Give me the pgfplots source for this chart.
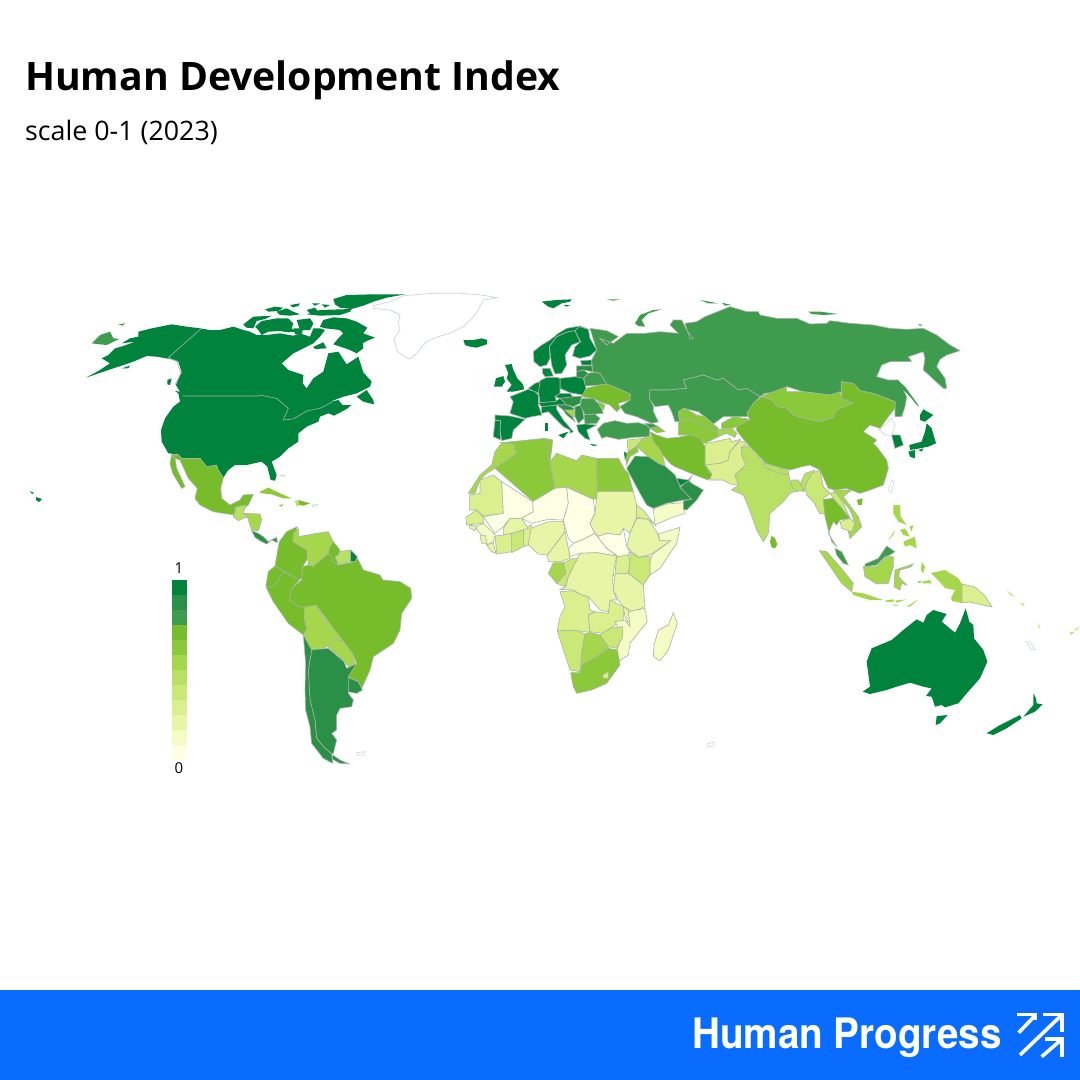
\documentclass[border=0pt]{standalone}
\usepackage{fontspec}
\setmainfont{Open Sans}
\newfontfamily\logofont{TeX Gyre Heros}
\usepackage{pgfplots}
\pgfplotsset{compat=1.18}
\definecolor{c1}{HTML}{00843D}\definecolor{c2}{HTML}{2A8F47}\definecolor{c3}{HTML}{3F9B4D}
\definecolor{c4}{HTML}{76BC2B}\definecolor{c5}{HTML}{8CC93A}\definecolor{c6}{HTML}{A5D64C}
\definecolor{c7}{HTML}{B8E065}\definecolor{c8}{HTML}{CAE876}\definecolor{c9}{HTML}{DBEF8E}
\definecolor{c10}{HTML}{E8F5A6}\definecolor{c11}{HTML}{F5FBC5}\definecolor{c12}{HTML}{FFFFE5}
\definecolor{bd}{HTML}{A8B4A8}\definecolor{gl}{HTML}{CBD5D8}\definecolor{band}{HTML}{0A6CFF}
\pgfplotsset{
 zA/.style={x filter/.expression={80+x/3},y filter/.expression={285+y/3}},
 zB/.style={x filter/.expression={160+x/3},y filter/.expression={500+y/3}},
 zC/.style={x filter/.expression={460+x/3},y filter/.expression={290+y/3}},
 zD/.style={x filter/.expression={460+x/3},y filter/.expression={430+y/3}},
 zE/.style={x filter/.expression={590+x/3},y filter/.expression={300+y/3}},
 zF/.style={x filter/.expression={620+x/3},y filter/.expression={410+y/3}},
 zG/.style={x filter/.expression={820+x/3},y filter/.expression={590+y/3}},
 zH/.style={x filter/.expression={350+x/3},y filter/.expression={285+y/3}},
 zL/.style={x filter/.expression={680+x/3},y filter/.expression={1000+y/3}},
}
\newcommand{\poly}[3]{\addplot[fill=#1,draw=bd,line width=.6pt,#2] coordinates {#3} --cycle;}
\newcommand{\dk}[3]{\addplot[fill=#1,draw=none,#2] coordinates {#3} --cycle;}
\begin{document}
\begin{tikzpicture}
\begin{axis}[scale only axis,width=1080pt,height=1080pt,xmin=0,xmax=1080,ymin=0,ymax=1080,y dir=reverse,hide axis,clip=true]
\addplot[fill=white,draw=none] coordinates {(0,0)(1080,0)(1080,1080)(0,1080)} --cycle;
\addplot[fill=band,draw=none] coordinates {(0,990)(1080,990)(1080,1080)(0,1080)} --cycle;
% legend
\addplot[fill=c1,draw=none] coordinates {(172,580)(187,580)(187,595)(172,595)} --cycle;
\addplot[fill=c2,draw=none] coordinates {(172,595)(187,595)(187,610)(172,610)} --cycle;
\addplot[fill=c3,draw=none] coordinates {(172,610)(187,610)(187,625)(172,625)} --cycle;
\addplot[fill=c4,draw=none] coordinates {(172,625)(187,625)(187,640)(172,640)} --cycle;
\addplot[fill=c5,draw=none] coordinates {(172,640)(187,640)(187,655)(172,655)} --cycle;
\addplot[fill=c6,draw=none] coordinates {(172,655)(187,655)(187,670)(172,670)} --cycle;
\addplot[fill=c7,draw=none] coordinates {(172,670)(187,670)(187,685)(172,685)} --cycle;
\addplot[fill=c8,draw=none] coordinates {(172,685)(187,685)(187,700)(172,700)} --cycle;
\addplot[fill=c9,draw=none] coordinates {(172,700)(187,700)(187,715)(172,715)} --cycle;
\addplot[fill=c10,draw=none] coordinates {(172,715)(187,715)(187,730)(172,730)} --cycle;
\addplot[fill=c11,draw=none] coordinates {(172,730)(187,730)(187,745)(172,745)} --cycle;
\addplot[fill=c12,draw=none] coordinates {(172,745)(187,745)(187,760)(172,760)} --cycle;
% Greenland
\addplot[fill=white,draw=gl,line width=.7pt,zH] coordinates {(70,62)(120,50)(160,32)(250,25)(330,25)(395,30)(442,38)(400,45)(392,60)(385,75)(370,95)(360,105)(340,125)(320,135)(300,145)(265,155)(230,170)(215,185)(200,205)(180,222)(165,215)(150,205)(140,195)(132,160)(150,135)(145,115)(150,90)(120,75)(70,70)} --cycle;
\dk{c1}{zH}{(340,165)(370,165)(395,160)(412,165)(410,178)(380,188)(360,185)(345,180)}
% North America
\dk{c1}{zA}{(175,140)(215,130)(275,118)(320,125)(360,130)(390,135)(420,135)(460,125)(490,135)(510,140)(530,150)(560,150)(600,145)(640,152)(660,145)(690,155)(700,130)(720,130)(735,135)(720,155)(700,175)(670,190)(640,205)(605,235)(625,255)(670,270)(668,295)(680,310)(700,280)(730,260)(745,205)(775,200)(800,238)(835,215)(850,262)(875,290)(870,305)(830,325)(790,335)(745,352)(775,345)(788,360)(815,360)(800,372)(762,392)(745,385)(720,395)(715,410)(680,425)(655,445)(655,470)(625,490)(600,515)(575,530)(590,570)(585,587)(572,585)(562,545)(545,530)(500,540)(465,540)(445,555)(430,578)(415,555)(410,540)(380,545)(360,520)(305,520)(295,508)(265,505)(245,470)(243,435)(255,400)(280,365)(300,350)(295,325)(285,318)(300,320)(288,300)(300,270)(305,262)(295,230)(270,222)(230,215)(200,213)(160,230)(125,242)(100,250)(18,278)(55,258)(90,235)(65,220)(85,210)(105,190)(130,183)(165,170)(125,175)(150,160)(175,155)}
\dk{c1}{zA}{(262,285)(275,280)(270,300)(262,298)}
\dk{c1}{zA}{(830,335)(860,315)(880,345)(882,358)(850,350)}
\dk{c1}{zA}{(720,125)(730,105)(760,97)(800,100)(830,110)(862,128)(850,145)(885,158)(860,168)(848,175)(850,190)(830,205)(810,195)(790,188)(760,178)(775,160)(790,145)(780,135)(755,132)(735,130)}
\dk{c1}{zA}{(700,185)(730,172)(740,190)(705,192)}
\dk{c1}{zA}{(525,125)(545,108)(590,100)(625,100)(640,115)(635,130)(650,140)(625,142)(600,138)(565,140)(545,150)(535,135)}
\dk{c1}{zA}{(490,118)(520,95)(575,92)(555,102)(530,108)(520,130)(500,128)}
\dk{c1}{zA}{(760,42)(800,30)(880,28)(975,28)(920,38)(880,50)(850,62)(815,72)(780,68)(765,58)}
\dk{c1}{zA}{(680,88)(720,75)(815,72)(810,80)(780,90)(720,92)}
\dk{c1}{zA}{(555,73)(585,65)(610,68)(595,78)(565,80)}
\dk{c1}{zA}{(590,80)(620,70)(640,80)(660,88)(630,92)(600,90)}
\dk{c1}{zA}{(630,60)(660,55)(655,63)(638,67)}
\dk{c1}{zA}{(695,55)(720,55)(705,62)}
\dk{c1}{zA}{(725,58)(750,60)(735,68)}
\dk{c1}{zA}{(680,75)(705,68)(715,80)(690,85)}
\dk{c1}{zA}{(650,105)(690,100)(700,115)(690,135)(660,135)(655,120)}
\dk{c1}{zA}{(640,130)(670,130)(665,147)(645,147)}
\dk{c1}{zA}{(125,250)(150,242)(145,250)}
\dk{c3}{zA}{(35,175)(60,150)(90,140)(100,160)(118,162)(80,180)(60,178)}
\dk{c3}{zA}{(115,118)(135,115)(128,122)}
\addplot[draw=bd,line width=.6pt,zA] coordinates {(362,132)(265,218)(290,228)(303,265)(285,300)};
\addplot[draw=bd,line width=.6pt,zA] coordinates {(308,333)(535,333)(540,330)(590,340)(625,370)(610,405)(640,402)(680,378)(720,370)(755,352)};
\dk{c1}{}{(36,497)(42,499)(39,502)(36,500)}
\dk{c1}{}{(30,491)(34,493)(32,494)}
% Mexico, Central America, Caribbean
\poly{c4}{zA}{(275,508)(295,510)(305,520)(360,520)(380,545)(410,540)(415,555)(430,578)(422,610)(425,640)(450,660)(480,645)(490,630)(520,628)(505,660)(490,670)(465,668)(465,690)(430,685)(400,680)(360,660)(345,640)(352,610)(325,580)(300,525)(285,520)}
\poly{c4}{zA}{(275,510)(285,520)(290,550)(315,605)(305,610)(278,565)(270,535)}
\poly{c7}{zB}{(230,20)(258,15)(250,40)(262,50)(235,62)(220,50)}
\poly{c6}{zB}{(250,40)(300,42)(305,60)(295,92)(275,90)(262,50)}
\poly{c2}{zB}{(275,92)(295,100)(310,110)(325,125)(350,112)(352,128)(335,120)(320,132)(300,122)(285,112)}
\dk{c5}{zA}{(540,620)(565,608)(600,625)(635,640)(610,640)(575,628)(540,624)}
\dk{c4}{zA}{(655,645)(690,655)(670,662)(658,660)}
\dk{c7}{zA}{(645,648)(655,645)(658,660)(650,665)}
\dk{c5}{zA}{(595,660)(610,658)(605,665)}
\addplot[fill=white,draw=gl,line width=.6pt,zA] coordinates {(697,660)(712,658)(712,663)(697,664)} --cycle;
\addplot[fill=white,draw=gl,line width=.6pt,zA] coordinates {(600,570)(615,570)(610,575)} --cycle;
% South America
\poly{c4}{zB}{(380,95)(412,80)(398,120)(420,135)(445,150)(440,180)(428,200)(425,235)(415,240)(375,215)(345,198)(358,125)}
\poly{c6}{zB}{(400,100)(415,85)(415,110)(470,100)(505,95)(520,125)(510,140)(505,160)(495,170)(460,200)(445,195)(440,150)(398,125)}
\poly{c4}{zB}{(428,200)(445,195)(460,200)(495,170)(505,160)(515,170)(518,185)(535,195)(585,185)(592,175)(610,210)(660,225)(668,240)(720,245)(752,265)(755,295)(725,340)(720,390)(700,430)(640,470)(630,510)(605,565)(595,545)(562,530)(590,490)(578,462)(548,422)(520,385)(468,315)(435,322)(415,320)(388,300)(395,265)(425,240)}
\poly{c4}{zB}{(510,140)(520,125)(540,150)(535,165)(525,170)(535,195)(518,185)(515,170)(505,160)}
\poly{c7}{zB}{(538,155)(570,150)(572,185)(545,190)(535,195)(525,170)(535,165)}
\poly{c1}{zB}{(572,150)(592,170)(585,185)(572,185)}
\poly{c4}{zB}{(345,198)(375,215)(345,255)(320,265)(318,255)(325,215)}
\poly{c4}{zB}{(320,265)(345,255)(372,215)(418,240)(395,265)(388,300)(415,320)(435,322)(432,355)(440,385)(430,405)(385,370)(340,305)}
\poly{c6}{zB}{(435,322)(468,315)(490,350)(520,385)(548,422)(515,418)(505,440)(470,448)(455,450)(430,405)(440,385)(432,355)}
\poly{c6}{zB}{(505,440)(515,418)(548,422)(578,462)(585,490)(570,505)(550,480)(515,450)}
\poly{c2}{zB}{(562,532)(595,545)(607,570)(590,580)(565,575)}
\poly{c2}{zB}{(455,450)(470,448)(505,445)(552,485)(560,505)(590,490)(565,530)(565,580)(580,600)(575,620)(540,625)(530,645)(530,690)(515,700)(530,720)(520,760)(515,762)(490,740)(470,715)(465,660)(450,600)(445,510)}
\poly{c2}{zB}{(430,405)(455,450)(445,510)(450,600)(465,660)(470,715)(490,740)(515,762)(518,790)(490,775)(455,730)(450,680)(437,630)(435,570)(437,490)}
\poly{c2}{zB}{(518,765)(540,780)(568,792)(540,790)(518,778)}
\addplot[fill=white,draw=gl,line width=.6pt,zB] coordinates {(590,758)(615,755)(610,765)(590,765)} --cycle;
% Europe
\dk{c1}{zC}{(245,35)(290,30)(335,28)(330,35)(305,40)(280,55)(265,50)}
\dk{c1}{zC}{(310,45)(330,45)(320,50)}
\dk{c3}{zC}{(440,28)(480,28)(460,32)}
\dk{c1}{zC}{(135,225)(155,222)(160,240)(165,250)(172,265)(182,275)(190,285)(192,298)(160,305)(140,305)(155,285)(140,265)(145,250)}
\dk{c1}{zC}{(108,265)(130,258)(135,275)(125,290)(102,290)}
% Russia
\poly{c3}{zE}{(0,85)(50,92)(85,110)(50,135)(30,115)(70,130)(110,100)(165,100)(210,95)(265,100)(240,75)(250,60)(275,60)(290,90)(310,115)(300,118)(285,70)(320,65)(345,50)(420,20)(470,35)(505,35)(510,45)(560,55)(620,55)(660,72)(710,70)(720,62)(780,70)(850,75)(900,85)(950,88)(1000,85)(1040,105)(1080,135)(1110,152)(1070,165)(1050,178)(1040,200)(1065,235)(1070,265)(1060,265)(1000,210)(1005,175)(1000,155)(955,170)(965,185)(900,185)(875,195)(860,230)(895,240)(925,240)(950,290)(945,320)(935,350)(915,350)(915,305)(850,280)(810,272)(790,250)(755,245)(755,275)(720,285)(640,275)(590,260)(585,275)(525,280)(510,290)(470,265)(445,270)(400,235)(380,240)(340,225)(280,240)(290,265)(235,270)(180,270)(178,295)(190,318)(190,335)(205,365)(185,370)(140,350)(105,340)(90,320)(120,300)(120,282)(70,260)(50,252)(30,220)(8,215)(5,180)(20,150)}
\dk{c3}{zE}{(135,70)(150,45)(190,30)(215,28)(175,40)(155,60)(165,80)(145,78)}
\dk{c3}{zE}{(655,35)(690,35)(745,42)(700,45)(665,42)}
\dk{c3}{zE}{(985,72)(998,75)(990,78)}
\dk{c3}{zE}{(920,238)(945,260)(985,315)(985,320)(960,290)(935,265)}
\dk{c3}{zE}{(330,0)(385,10)(355,10)}
\dk{c3}{zE}{(395,8)(425,15)(405,17)}
\poly{c1}{zC}{(220,185)(245,165)(270,150)(295,130)(320,115)(360,108)(385,118)(345,122)(325,125)(290,140)(268,170)(270,205)(260,225)(240,230)(222,215)}
\poly{c1}{zC}{(290,140)(325,125)(345,122)(360,155)(335,165)(315,195)(320,225)(305,250)(285,252)(275,225)(268,170)}
\poly{c1}{zC}{(345,122)(358,110)(385,118)(390,145)(410,180)(390,198)(360,205)(338,198)(345,170)(362,155)}
\poly{c1}{zC}{(248,235)(270,235)(280,258)(255,260)(248,250)}
\poly{c1}{zC}{(362,212)(395,210)(395,225)(365,225)}
\poly{c2}{zC}{(350,228)(395,227)(398,245)(370,240)(350,245)}
\poly{c2}{zC}{(350,245)(370,240)(385,250)(370,265)(350,262)}
\poly{c3}{zC}{(372,265)(385,250)(398,247)(420,250)(440,282)(420,285)(375,288)}
\poly{c4}{zC}{(365,320)(378,295)(420,285)(440,282)(460,290)(510,312)(510,330)(475,340)(480,355)(470,365)(450,345)(420,335)(400,325)}
\poly{c1}{zC}{(300,265)(345,260)(370,265)(378,295)(368,315)(330,308)(300,295)}
\poly{c1}{zC}{(240,272)(260,262)(290,262)(300,265)(300,310)(285,320)(290,335)(240,338)(235,300)}
\poly{c1}{zC}{(205,295)(225,280)(240,275)(235,310)(225,305)}
\poly{c1}{zC}{(150,320)(175,310)(205,298)(225,305)(235,315)(235,345)(245,375)(215,380)(195,385)(150,370)(160,335)}
\poly{c1}{zC}{(105,375)(150,378)(195,388)(160,420)(155,445)(125,452)(120,420)(122,392)(105,390)}
\poly{c1}{zC}{(105,392)(122,392)(120,420)(122,450)(100,440)}
\poly{c1}{zC}{(245,350)(290,345)(290,358)(310,390)(340,425)(330,430)(330,420)(310,410)(285,385)(265,365)(245,370)}
\dk{c1}{zC}{(295,435)(325,425)(310,445)}
\dk{c1}{zC}{(255,400)(265,400)(265,422)(255,422)}
\poly{c1}{zC}{(235,338)(285,335)(300,325)(335,330)(320,345)(290,345)(245,350)}
\poly{c1}{zC}{(285,320)(300,310)(330,310)(340,322)(300,325)}
\poly{c2}{zC}{(300,325)(340,320)(365,318)(360,340)(340,350)(320,345)}
\poly{c2}{zC}{(290,345)(320,345)(345,355)(330,365)(345,395)(320,375)(310,360)}
\poly{c6}{zC}{(315,360)(345,360)(345,380)(335,378)}
\poly{c2}{zC}{(345,350)(365,345)(372,385)(355,400)(345,380)}
\poly{c3}{zC}{(365,325)(400,325)(420,345)(430,370)(405,372)(375,375)(360,345)}
\poly{c5}{zC}{(415,335)(435,345)(430,360)(420,350)}
\poly{c3}{zC}{(372,375)(405,372)(420,385)(410,400)(375,402)}
\poly{c1}{zC}{(350,405)(375,402)(410,405)(380,420)(390,450)(375,445)(355,425)}
\poly{c3}{zC}{(412,418)(430,400)(465,392)(500,400)(535,398)(570,408)(568,440)(520,442)(475,448)(440,440)(425,445)}
\dk{c1}{zC}{(390,462)(415,465)(400,468)}
% Central Asia
\poly{c3}{zE}{(180,270)(235,270)(290,265)(280,240)(340,225)(380,240)(400,235)(445,270)(470,265)(510,290)(490,310)(480,340)(470,350)(430,350)(400,350)(370,372)(350,355)(325,335)(280,325)(265,335)(268,365)(255,365)(245,335)(235,315)(195,320)(178,295)}
\poly{c5}{zE}{(515,288)(590,260)(590,275)(640,275)(720,285)(750,275)(755,295)(790,310)(740,330)(730,352)(690,365)(640,355)(610,345)(590,325)(560,320)(545,300)}
\poly{c4}{zE}{(515,290)(545,300)(560,320)(590,325)(610,345)(640,355)(690,365)(730,352)(740,330)(790,310)(755,295)(755,245)(790,250)(810,272)(850,280)(915,305)(915,325)(895,350)(870,385)(840,375)(820,395)(860,420)(850,430)(860,440)(890,480)(895,505)(880,555)(840,570)(810,580)(770,565)(735,570)(715,565)(690,510)(660,495)(635,500)(600,510)(560,500)(525,488)(495,455)(470,430)(440,392)(440,375)(480,360)(470,340)(490,310)}
\poly{c3}{zE}{(165,370)(190,372)(205,380)(180,385)}
\poly{c5}{zE}{(180,385)(205,380)(225,395)(200,398)}
\poly{c5}{zE}{(265,335)(285,325)(320,345)(345,350)(385,385)(385,400)(330,370)(285,355)(268,362)}
\poly{c5}{zE}{(265,365)(285,355)(330,370)(385,400)(385,410)(345,430)(300,405)(265,405)}
\poly{c5}{zE}{(395,370)(430,350)(480,358)(440,380)(425,385)(395,385)}
\poly{c6}{zE}{(388,388)(425,385)(440,400)(435,412)(410,400)(385,410)}
\poly{c9}{zF}{(245,120)(260,100)(330,85)(335,95)(360,88)(330,125)(325,150)(300,160)(270,165)(255,165)(250,150)}
\poly{c9}{zF}{(330,125)(360,92)(385,100)(365,112)(365,135)(378,165)(345,195)(355,225)(330,222)(310,210)(270,210)(275,190)(255,165)(300,160)(325,150)}
\poly{c4}{zF}{(90,65)(110,75)(140,85)(175,82)(210,75)(240,85)(255,110)(255,165)(275,195)(265,210)(225,195)(165,170)(150,160)(120,125)(100,95)}
\poly{c8}{zF}{(22,90)(70,85)(50,108)(25,125)(22,105)}
\poly{c6}{zF}{(70,85)(95,75)(100,95)(125,125)(135,165)(115,160)(85,140)(50,110)}
\poly{c5}{zF}{(15,135)(25,125)(50,110)(55,125)(30,140)(20,165)}
\dk{c1}{zF}{(12,125)(20,130)(15,150)}
\poly{c2}{zF}{(20,175)(45,138)(85,140)(115,160)(135,168)(165,195)(180,230)(215,268)(190,270)(140,280)(100,295)(80,285)(60,250)}
\poly{c11}{zF}{(100,297)(140,282)(190,278)(195,310)(150,325)(105,345)}
\poly{c2}{zF}{(190,272)(215,268)(180,232)(205,210)(215,220)(250,240)(230,270)(200,300)(190,298)}
\poly{c1}{zF}{(170,205)(180,228)(208,212)(215,198)(205,210)}
% South and Southeast Asia
\poly{c7}{zF}{(365,112)(385,108)(408,128)(430,160)(505,185)(510,212)(530,245)(555,190)(585,180)(560,225)(552,245)(535,240)(510,250)(490,275)(450,310)(445,370)(430,395)(410,360)(385,290)(370,255)(335,240)(355,225)(345,195)(378,165)(365,135)}
\poly{c7}{zF}{(430,158)(470,170)(505,183)(505,195)(470,188)(435,172)}
\poly{c7}{zF}{(515,210)(535,210)(550,240)(530,245)(515,230)}
\poly{c8}{zF}{(555,230)(575,190)(600,180)(610,230)(630,250)(610,265)(615,310)(600,312)(580,275)(560,255)}
\poly{c4}{zF}{(610,268)(640,265)(670,300)(690,325)(660,330)(650,345)(640,335)(625,370)(650,410)(635,395)(625,360)(615,320)}
\poly{c8}{zF}{(630,250)(650,245)(670,280)(690,325)(670,300)(640,265)}
\poly{c6}{zF}{(640,240)(695,240)(670,260)(715,320)(725,350)(690,385)(685,365)(705,340)(690,300)(670,275)}
\poly{c9}{zF}{(660,335)(690,325)(705,340)(695,365)(665,355)}
\poly{c3}{zF}{(645,415)(665,425)(685,465)(670,460)(650,435)}
\dk{c4}{zF}{(455,377)(465,385)(472,403)(465,415)(455,412)(450,395)}
\dk{c4}{zF}{(710,270)(728,265)(725,285)(715,285)}
\poly{c6}{zF}{(598,422)(620,425)(660,470)(700,520)(695,545)(665,520)}
\dk{c6}{zF}{(695,545)(730,550)(790,570)(750,570)(700,555)}
\dk{c6}{zF}{(795,572)(820,568)(822,575)(798,576)}
\dk{c6}{zF}{(825,572)(860,568)(830,578)}
\dk{c6}{zF}{(860,590)(895,568)(870,590)}
\dk{c6}{zF}{(818,582)(835,587)(825,588)}
\poly{c6}{zF}{(730,470)(770,470)(800,440)(820,440)(820,470)(805,520)(770,522)(735,500)}
\poly{c3}{zF}{(735,462)(775,445)(800,408)(825,425)(810,435)(795,440)(770,465)(735,470)}
\poly{c6}{zF}{(825,480)(880,462)(870,472)(840,480)(835,500)(860,525)(845,520)(840,540)(822,530)}
\dk{c6}{zF}{(820,285)(840,285)(842,320)(860,345)(835,335)(820,310)}
\dk{c6}{zF}{(850,395)(885,380)(890,415)(870,405)(855,410)}
\dk{c6}{zF}{(840,360)(855,355)(870,380)(850,375)}
\dk{c6}{zF}{(880,345)(875,365)(868,350)}
\dk{c6}{zF}{(805,392)(825,360)(820,375)}
\dk{c6}{zF}{(905,455)(915,470)(910,490)(903,480)}
\dk{c6}{zF}{(890,515)(905,512)(900,520)}
\dk{c6}{zF}{(905,515)(930,510)(935,520)(910,520)}
\addplot[fill=white,draw=gl,line width=.6pt,zF] coordinates {(805,240)(815,210)(822,215)(815,248)} --cycle;
\poly{c1}{zE}{(905,405)(930,405)(940,435)(915,445)}
\addplot[fill=white,draw=gl,line width=.6pt,zE] coordinates {(868,390)(905,355)(915,375)(905,405)(885,405)} --cycle;
\dk{c1}{zE}{(1010,370)(1025,385)(1038,430)(1015,440)(990,445)(960,450)(958,435)(995,425)(1005,395)}
\dk{c1}{zE}{(955,455)(975,450)(975,475)(960,470)}
\dk{c1}{zE}{(985,450)(1000,445)(995,455)}
\dk{c1}{zE}{(990,345)(1000,328)(1030,345)(1005,365)(990,360)}
% New Guinea and Pacific
\dk{c6}{}{(931,573)(945,570)(958,578)(962,584)(962,603)(952,601)(951,598)(955,590)(945,588)(938,580)}
\poly{c9}{}{(962,584)(975,587)(985,596)(992,607)(978,604)(970,602)(962,603)}
\dk{c8}{zG}{(560,0)(585,20)(570,15)}
\dk{c8}{zG}{(600,38)(615,42)(608,48)}
\dk{c8}{zG}{(655,98)(662,115)(656,115)}
\dk{c7}{zG}{(748,128)(762,125)(755,135)}
\dk{c7}{zG}{(765,118)(780,110)(768,122)}
\addplot[fill=white,draw=gl,line width=.6pt,zG] coordinates {(618,155)(630,155)(645,178)(635,180)} --cycle;
\addplot[fill=white,draw=gl,line width=.6pt] coordinates {(707,744)(714,742)(714,746)(708,747)} --cycle;
\dk{c1}{zG}{(128,305)(150,290)(140,215)(155,175)(215,150)(250,120)(290,88)(310,98)(320,75)(340,60)(380,72)(365,95)(405,128)(420,100)(437,55)(448,95)(460,105)(462,145)(490,180)(502,215)(480,265)(440,310)(415,340)(375,352)(365,345)(345,350)(335,320)(318,318)(335,295)(310,290)(270,278)(230,290)(200,300)(150,312)}
\dk{c1}{zG}{(350,378)(383,375)(360,400)(347,405)}
\dk{c1}{zG}{(500,430)(540,405)(600,375)(605,385)(560,415)(520,435)}
\dk{c1}{zG}{(610,380)(640,345)(640,310)(648,325)(650,340)(668,343)(645,365)}
% Africa
\poly{c6}{zD}{(25,190)(60,135)(95,105)(105,65)(125,38)(160,42)(170,70)(105,115)(80,130)(60,150)(45,190)}
\poly{c5}{zD}{(125,38)(255,25)(262,60)(270,95)(285,175)(220,215)(105,115)(170,70)(160,42)}
\poly{c5}{zD}{(255,25)(278,30)(275,60)(270,95)(262,60)}
\poly{c6}{zD}{(270,95)(290,70)(350,92)(365,75)(410,85)(412,205)(400,208)(325,172)(285,175)}
\poly{c5}{zD}{(410,85)(475,85)(495,120)(505,130)(520,185)(412,185)}
\poly{c9}{zD}{(28,195)(60,190)(60,150)(100,135)(125,155)(130,250)(70,258)(50,240)(28,240)}
\poly{c12}{zD}{(125,155)(218,215)(220,245)(185,265)(150,265)(130,290)(105,310)(70,260)(130,250)}
\poly{c12}{zD}{(285,175)(320,172)(325,220)(310,270)(265,268)(215,280)(185,265)(220,245)(218,215)}
\poly{c12}{zD}{(320,172)(400,208)(405,250)(390,280)(405,310)(370,328)(340,340)(325,325)(310,272)(325,220)}
\poly{c10}{zD}{(412,185)(520,185)(530,225)(530,260)(510,310)(490,295)(480,315)(440,310)(420,320)(405,310)(390,280)(405,250)}
\poly{c10}{zD}{(510,310)(530,265)(565,268)(590,305)(600,332)(632,332)(575,372)(535,382)(500,350)}
\poly{c9}{zD}{(530,225)(550,240)(585,285)(565,268)(530,262)}
\poly{c11}{zD}{(595,312)(660,292)(650,340)(600,415)(570,435)(568,405)(575,375)(632,332)(600,332)}
\poly{c12}{zD}{(412,320)(440,310)(480,315)(490,295)(500,350)(510,365)(500,378)(475,380)(440,355)}
\poly{c12}{zD}{(325,355)(340,340)(370,328)(405,310)(420,330)(440,355)(470,378)(410,368)(360,370)(330,380)}
\poly{c10}{zD}{(205,298)(265,275)(310,275)(315,305)(285,345)(262,375)(235,372)(205,345)}
\poly{c10}{zD}{(262,375)(285,345)(315,305)(325,355)(330,385)(300,395)(265,395)}
\poly{c9}{zD}{(190,295)(215,285)(205,345)(192,350)}
\poly{c8}{zD}{(155,310)(190,300)(190,350)(155,368)}
\poly{c10}{zD}{(130,295)(150,265)(185,265)(205,295)(155,310)(130,315)}
\poly{c9}{zD}{(105,318)(130,315)(155,310)(155,365)(110,372)(108,345)}
\poly{c10}{zD}{(80,345)(100,338)(108,370)(95,365)}
\poly{c11}{zD}{(45,290)(70,280)(105,315)(100,335)(80,345)(60,310)}
\poly{c10}{zD}{(60,318)(75,315)(82,340)(65,340)}
\poly{c9}{zD}{(18,262)(50,240)(70,262)(70,280)(20,285)}
\poly{c10}{zD}{(28,285)(50,290)(45,302)(30,295)}
\poly{c6}{zD}{(265,430)(280,398)(310,398)(318,430)(290,460)}
\poly{c8}{zD}{(310,398)(340,385)(355,385)(325,440)(315,470)(290,460)(318,430)}
\poly{c10}{zD}{(360,370)(410,368)(470,378)(465,400)(460,430)(460,480)(470,510)(455,510)(445,545)(420,540)(385,500)(365,495)(340,480)(300,478)(318,470)(325,440)}
\poly{c9}{zD}{(470,380)(505,375)(510,395)(505,430)(465,432)}
\poly{c8}{zD}{(510,365)(535,382)(570,378)(570,435)(550,465)(505,430)(510,395)}
\poly{c12}{zD}{(458,435)(470,440)(468,470)(458,460)}
\poly{c10}{zD}{(465,432)(505,430)(550,465)(555,530)(520,545)(490,530)(475,510)(460,480)}
\poly{c9}{zD}{(300,485)(340,482)(365,495)(385,500)(390,540)(405,545)(385,555)(390,607)(350,602)(292,600)(300,560)(315,530)}
\poly{c9}{zD}{(385,555)(405,545)(445,550)(450,510)(490,530)(490,570)(450,595)(430,610)(390,605)}
\poly{c10}{zD}{(490,530)(505,540)(515,585)(503,575)(495,560)}
\poly{c11}{zD}{(505,545)(555,535)(562,575)(510,640)(505,675)(475,695)(472,655)(487,615)(465,575)(495,570)(510,590)}
\poly{c8}{zD}{(420,615)(450,595)(487,590)(488,620)(470,655)(445,650)}
\poly{c8}{zD}{(292,602)(350,602)(375,612)(365,670)(360,725)(330,720)(310,660)}
\poly{c6}{zD}{(375,612)(390,607)(420,615)(445,652)(410,680)(365,705)(365,670)}
\poly{c5}{zD}{(365,705)(410,680)(445,655)(472,660)(480,705)(440,760)(395,780)(350,790)(340,770)(332,728)(360,728)}
\poly{c9}{zD}{(428,735)(445,725)(445,745)(430,745)}
\poly{c11}{zD}{(640,548)(652,580)(625,660)(600,692)(580,680)(582,645)(595,600)(625,585)}
% logo arrows
\addplot[draw=white,line width=3.6pt,zL] coordinates {(1012,44)(1067,44)(1067,60)};
\addplot[draw=white,line width=3.6pt,zL] coordinates {(1016,98)(1066,46)};
\addplot[draw=white,line width=3.6pt,zL] coordinates {(1090,44)(1146,44)(1146,97)};
\addplot[draw=white,line width=3.6pt,zL] coordinates {(1020,165)(1144,46)};
\addplot[draw=white,line width=3.6pt,zL] coordinates {(1095,117)(1146,117)(1146,170)};
\addplot[draw=white,line width=3.6pt,zL] coordinates {(1085,170)(1144,119)};
% text
\node[anchor=base west,inner sep=0pt,font=\fontsize{39.2}{39}\selectfont\bfseries] at (axis cs:25,90) {Human Development Index};
\node[anchor=base west,inner sep=0pt,font=\fontsize{26.8}{27}\selectfont] at (axis cs:25,140) {scale 0-1 (2023)};
\node[inner sep=0pt,font=\fontsize{15}{15}\selectfont] at (axis cs:179,568) {1};
\node[inner sep=0pt,font=\fontsize{15}{15}\selectfont] at (axis cs:179,768) {0};
\node[anchor=base west,inner sep=0pt,text=white,font=\logofont\fontsize{42}{42}\selectfont\bfseries] at (axis cs:692,1048) {\scalebox{0.92}[1]{Human Progress}};
\end{axis}
\end{tikzpicture}
\end{document}
